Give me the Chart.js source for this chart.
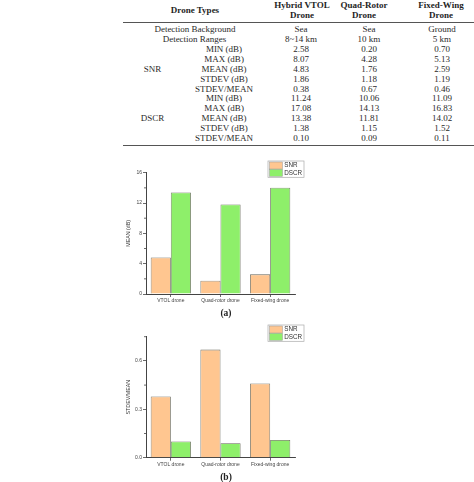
<!DOCTYPE html>
<html>
<head>
<meta charset="utf-8">
<script src="https://cdn.jsdelivr.net/npm/chart.js@4.4.1/dist/chart.umd.min.js"></script>
<style>
  html, body { margin:0; padding:0; background:#fff; width:474px; height:482px; overflow:hidden; }
  .t { position:absolute; transform:translate(-50%,-50%); white-space:nowrap; font-family:"Liberation Serif","Times New Roman",serif; font-size:9px; color:#2a2a2a; line-height:10px; }
  .b { font-weight:bold; color:#1e1e1e; }
  .rule { position:absolute; background:#555; }
  .box { position:absolute; }
  .cap { position:absolute; transform:translate(-50%,-50%); font-family:"Liberation Serif",serif; font-weight:bold; font-size:9.5px; color:#222; }
</style>
</head>
<body>
<div id="table"></div>
<div class="box" style="left:100px;top:150px;width:220px;height:165px;"><canvas id="chartA"></canvas></div>
<div class="cap" style="left:226px;top:313px;">(a)</div>
<div class="box" style="left:100px;top:315px;width:220px;height:167px;"><canvas id="chartB"></canvas></div>
<div class="cap" style="left:226px;top:477px;">(b)</div>
<script>
// ---------------- data ----------------
const droneTypes = ['Hybrid VTOL Drone', 'Quad-Rotor Drone', 'Fixed-Wing Drone'];
const categories = ['VTOL drone', 'Quad-rotor drone', 'Fixed-wing drone'];
const seriesNames = ['SNR', 'DSCR'];
const detectionBackground = ['Sea', 'Sea', 'Ground'];
const detectionRanges = ['8~14 km', '10 km', '5 km'];
const metricLabels = ['MIN (dB)', 'MAX (dB)', 'MEAN (dB)', 'STDEV (dB)', 'STDEV/MEAN'];
const snrMin = [2.58, 0.20, 0.70];
const snrMax = [8.07, 4.28, 5.13];
const snrMean = [4.83, 1.76, 2.59];
const snrStdev = [1.86, 1.18, 1.19];
const snrRatio = [0.38, 0.67, 0.46];
const dscrMin = [11.24, 10.06, 11.09];
const dscrMax = [17.08, 14.13, 16.83];
const dscrMean = [13.38, 11.81, 14.02];
const dscrStdev = [1.38, 1.15, 1.52];
const dscrRatio = [0.10, 0.09, 0.11];
const meanTicks = [0, 4, 8, 12, 16];
const ratioTicks = [0.0, 0.3, 0.6];

// ---------------- table ----------------
const tableEl = document.getElementById('table');
function txt(s, x, y, bold) {
  const d = document.createElement('div');
  d.className = 't' + (bold ? ' b' : '');
  d.style.left = x + 'px'; d.style.top = y + 'px';
  d.textContent = s;
  tableEl.appendChild(d);
}
const headX = [302, 364, 441];
const valX = [301, 369, 442];
txt('Drone Types', 195, 10, true);
droneTypes.forEach((n, i) => {
  const parts = n.split(' ');
  const last = parts.pop();
  txt(parts.join(' '), headX[i], 5, true);
  txt(last, headX[i], 15, true);
});
const rowY = i => 29.3 + i * 9.88;
txt('Detection Background', 195, rowY(0));
txt('Detection Ranges', 194.5, rowY(1));
detectionBackground.forEach((v, i) => txt(v, valX[i], rowY(0)));
detectionRanges.forEach((v, i) => txt(v, valX[i], rowY(1)));
const snrRows = [snrMin, snrMax, snrMean, snrStdev, snrRatio];
const dscrRows = [dscrMin, dscrMax, dscrMean, dscrStdev, dscrRatio];
[[seriesNames[0], snrRows], [seriesNames[1], dscrRows]].forEach(([name, rows], g) => {
  const base = 2 + g * 5;
  txt(name, 152.5, rowY(base + 2));
  rows.forEach((arr, r) => {
    txt(metricLabels[r], 224, rowY(base + r));
    arr.forEach((v, c) => txt(v.toFixed(2), valX[c], rowY(base + r)));
  });
});
function rule(top, h) {
  const d = document.createElement('div');
  d.className = 'rule';
  d.style.left = '123px'; d.style.width = '351px';
  d.style.top = top + 'px'; d.style.height = h + 'px';
  tableEl.appendChild(d);
}
rule(22.2, 1);
rule(144.8, 1.6);

// ---------------- charts ----------------
const orangeFill = '#FFC690';
const greenFill = '#8EEF6A';
const barBorder = '#66665a';
const axisColor = '#444';
const fontFam = '"Liberation Sans", Arial, sans-serif';

const legendPlugin = {
  id: 'boxLegend',
  afterDraw(chart) {
    const ctx = chart.ctx, a = chart.chartArea;
    const x = a.right - 27, y = a.top - 11.7, w = 36, h = 16.3;
    ctx.save();
    ctx.fillStyle = '#fff';
    ctx.fillRect(x, y, w, h);
    ctx.strokeStyle = '#aaa'; ctx.lineWidth = 0.7;
    ctx.strokeRect(x, y, w, h);
    chart.data.datasets.forEach((ds, i) => {
      const sy = y + 1 + i * 7.3;
      ctx.fillStyle = ds.backgroundColor;
      ctx.fillRect(x + 1.5, sy, 13, 7);
      ctx.strokeStyle = '#999'; ctx.lineWidth = 0.5;
      ctx.strokeRect(x + 1.5, sy, 13, 7);
      ctx.fillStyle = '#333';
      ctx.font = '6.3px ' + fontFam;
      ctx.textBaseline = 'middle';
      ctx.textAlign = 'left';
      ctx.fillText(ds.label, x + 16.3, sy + 3.7);
    });
    ctx.restore();
  }
};
const minorTickPlugin = {
  id: 'minorTicks',
  afterDraw(chart) {
    const s = chart.scales.y, ctx = chart.ctx, a = chart.chartArea;
    const vals = s.ticks.map(t => t.value);
    const step = vals[1] - vals[0];
    ctx.save();
    ctx.strokeStyle = axisColor; ctx.lineWidth = 0.8;
    for (let i = 0; i < vals.length; i++) {
      const m = vals[i] + step / 2;
      if (m > s.max + 1e-9) break;
      const py = s.getPixelForValue(m);
      ctx.beginPath(); ctx.moveTo(a.left, py); ctx.lineTo(a.left - 2, py); ctx.stroke();
    }
    ctx.restore();
  }
};

function makeChart(id, snr, dscr, yTitle, tickVals, yMax, digits, padTop, xHeight) {
  return new Chart(document.getElementById(id), {
    type: 'bar',
    data: {
      labels: categories,
      datasets: [
        { label: seriesNames[0], data: snr, backgroundColor: orangeFill, borderColor: barBorder, borderWidth: 0.8 },
        { label: seriesNames[1], data: dscr, backgroundColor: greenFill, borderColor: barBorder, borderWidth: 0.8 }
      ]
    },
    options: {
      responsive: true, maintainAspectRatio: false, animation: false,
      layout: { padding: { left: 20, right: 25, top: padTop, bottom: 0 } },
      datasets: { bar: { barPercentage: 1.0, categoryPercentage: 0.81 } },
      plugins: { legend: { display: false }, tooltip: { enabled: false } },
      scales: {
        x: {
          offset: true,
          grid: { offset: false, drawOnChartArea: false, drawTicks: true, tickLength: 3, color: axisColor, lineWidth: 0.8 },
          border: { display: true, color: axisColor, width: 1 },
          ticks: { font: { size: 5, family: fontFam }, color: '#444', padding: 1, maxRotation: 0, autoSkip: false },
          afterFit: s => { s.height = xHeight; }
        },
        y: {
          min: 0, max: yMax,
          afterBuildTicks: s => { s.ticks = tickVals.map(v => ({ value: v })); },
          grid: { drawOnChartArea: false, drawTicks: true, tickLength: 3, color: axisColor, lineWidth: 0.8 },
          border: { display: true, color: axisColor, width: 1 },
          ticks: { font: { size: 5, family: fontFam }, color: '#444', padding: 1, callback: v => Number(v).toFixed(digits) },
          title: { display: true, text: yTitle, font: { size: 5.3, family: fontFam }, color: '#333', padding: { top: 5.8, bottom: 0 } },
          afterFit: s => { s.width = 26; }
        }
      }
    },
    plugins: [legendPlugin, minorTickPlugin]
  });
}
makeChart('chartA', snrMean, dscrMean, 'MEAN (dB)', meanTicks, 16, 0, 22.7, 21);
makeChart('chartB', snrRatio, dscrRatio, 'STDEV/MEAN', ratioTicks, 0.75, 1, 21.7, 24.3);
</script>
</body>
</html>
